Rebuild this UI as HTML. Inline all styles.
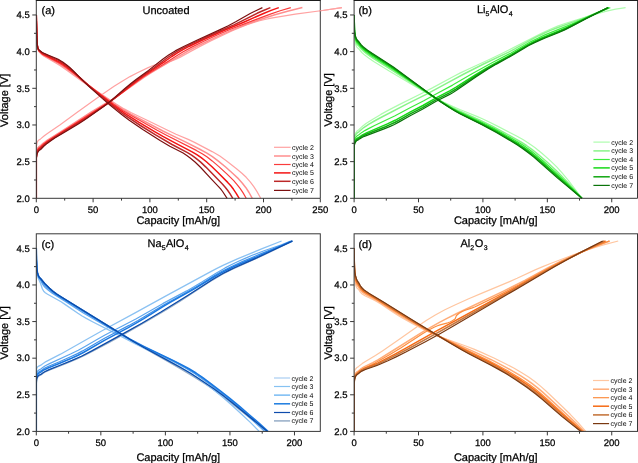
<!DOCTYPE html>
<html><head><meta charset="utf-8"><style>
html,body{margin:0;padding:0;background:#fff;}
body{width:638px;height:463px;overflow:hidden;}
svg{display:block;font-family:"Liberation Sans", sans-serif;will-change:transform;text-rendering:geometricPrecision;}
</style></head><body>
<svg width="638" height="463" viewBox="0 0 638 463">
<rect width="638" height="463" fill="#fff"/>
<g fill="none" stroke-linejoin="round" stroke-linecap="butt">
<clipPath id="cpa"><rect x="36.30" y="0" width="700" height="463"/></clipPath>
<g clip-path="url(#cpa)">
<path d="M36.3,15.0L36.9,39.7L37.0,42.9L37.4,46.1L37.9,49.0L38.9,51.3L41.4,54.3L42.3,55.1L43.7,56.0L53.6,61.7L59.9,65.6L66.4,70.1L82.3,81.4L91.1,87.4L115.8,103.8L124.1,108.9L131.4,112.8L147.1,120.2L169.2,131.0L176.0,134.2L188.2,139.4L194.5,142.4L212.1,151.6L216.4,154.0L219.8,156.1L226.3,160.7L236.2,168.5L241.9,173.3L246.2,177.3L250.2,181.8L253.8,186.7L257.0,191.6L260.7,198.3" stroke="#ffa2a2" stroke-width="1.20"/>
<path d="M36.3,198.3L36.3,147.7L37.0,142.8L37.9,140.9L38.9,139.9L40.6,138.9L44.0,136.0L47.4,133.4L60.2,124.7L76.9,112.5L99.9,96.0L114.1,86.3L122.6,80.9L130.0,76.6L137.4,72.8L148.2,67.6L152.5,65.7L156.1,64.5L159.6,63.6L169.2,61.6L172.3,60.7L175.5,59.5L180.3,57.1L191.6,50.9L201.0,45.9L211.2,40.8L221.2,36.0L232.3,30.8L240.8,27.1L247.0,24.6L253.0,22.6L258.7,21.0L264.9,19.5L271.2,18.2L278.6,16.8L295.3,14.2L322.6,10.5L341.9,7.6" stroke="#ffa2a2" stroke-width="1.20"/>
<path d="M36.3,15.0L36.8,38.6L37.1,42.8L37.3,45.6L37.9,48.6L38.7,50.7L39.2,51.4L41.8,54.0L43.7,55.3L57.2,62.7L64.7,67.5L72.6,73.2L87.7,84.7L95.8,90.6L114.2,103.8L118.9,106.9L123.2,109.6L131.4,114.3L162.9,131.0L170.3,134.7L185.8,142.1L199.3,149.0L206.9,153.2L212.4,156.6L218.1,160.9L225.6,167.0L233.1,173.7L238.6,178.9L242.4,183.2L245.9,187.7L249.0,192.5L252.3,198.3" stroke="#ff8e8e" stroke-width="1.50"/>
<path d="M36.3,198.3L36.3,155.0L37.0,149.8L37.9,147.8L38.9,146.7L40.6,145.6L43.4,143.1L46.2,141.0L50.2,138.4L60.2,132.2L91.4,112.0L106.4,103.0L112.4,99.3L124.1,91.4L143.9,77.4L150.5,73.1L156.7,69.3L188.2,50.9L193.6,48.0L199.6,45.0L220.0,35.4L232.0,30.1L244.2,25.2L259.5,19.7L274.9,14.8L288.5,11.0L302.4,7.6" stroke="#ff8e8e" stroke-width="1.50"/>
<path d="M36.3,15.0L36.8,37.9L37.0,42.4L37.4,45.6L37.8,48.3L38.7,50.4L39.2,51.1L41.6,53.4L43.8,54.9L58.2,62.4L61.8,64.6L65.7,67.2L73.5,73.0L88.5,85.2L96.6,91.5L113.6,104.3L118.7,107.8L123.5,110.9L133.8,117.0L156.7,130.0L166.5,135.2L196.3,150.4L202.2,153.8L207.2,157.1L212.2,160.9L218.9,166.6L226.8,173.9L233.5,180.4L236.9,184.3L240.1,188.4L243.1,192.9L246.2,198.3" stroke="#fa3c3c" stroke-width="1.20"/>
<path d="M36.3,198.3L36.3,156.1L37.0,151.0L37.5,149.9L38.2,148.8L38.9,147.9L40.4,146.9L43.6,143.9L46.8,141.5L51.5,138.4L107.9,102.7L118.8,95.2L137.6,81.1L144.7,76.1L150.7,72.2L164.8,63.4L177.5,55.2L183.2,51.7L191.7,47.1L203.2,41.5L217.7,34.8L230.5,29.3L243.8,24.1L270.4,14.1L280.2,10.8L290.8,7.6" stroke="#fa3c3c" stroke-width="1.20"/>
<path d="M36.3,15.0L36.8,35.3L37.1,43.3L37.5,46.3L37.9,48.5L38.6,49.9L39.3,50.8L41.7,53.0L42.9,53.8L58.6,61.6L62.9,64.1L67.1,67.1L73.4,72.1L87.9,84.9L97.0,92.3L113.1,105.1L118.7,109.2L124.8,113.3L138.7,122.1L155.0,131.8L162.9,136.3L174.0,142.3L192.1,151.8L196.8,154.6L201.2,157.6L206.1,161.5L212.0,166.8L217.9,172.5L227.7,182.4L230.8,185.8L233.5,189.3L236.2,193.3L239.2,198.3" stroke="#f41414" stroke-width="1.50"/>
<path d="M36.3,198.3L36.3,157.2L37.0,152.3L37.6,150.9L38.3,149.8L39.0,149.0L40.6,147.9L43.9,144.7L47.2,142.1L53.4,138.0L85.9,117.7L106.1,104.4L110.9,101.0L115.8,97.3L132.1,84.3L138.9,79.1L144.5,75.2L158.1,66.1L171.8,56.5L177.4,52.9L183.0,49.6L189.5,46.2L200.9,40.8L212.0,35.7L223.2,30.8L243.7,22.2L264.1,13.2L271.1,10.4L278.8,7.6" stroke="#f41414" stroke-width="1.50"/>
<path d="M36.3,15.0L36.8,35.2L37.1,42.8L37.4,45.7L37.8,48.0L38.5,49.5L39.1,50.3L41.9,52.5L43.0,53.3L58.5,60.4L62.6,62.9L66.7,65.8L69.9,68.4L73.7,71.7L84.9,82.3L89.5,86.6L104.2,99.0L110.3,104.1L115.9,108.5L121.7,112.9L127.8,117.2L140.4,125.5L155.6,134.9L172.0,144.5L187.5,152.6L191.6,155.1L195.4,157.8L200.4,161.9L205.9,167.1L222.6,184.3L225.2,187.3L227.6,190.3L230.1,193.9L232.8,198.3" stroke="#bc2828" stroke-width="1.50"/>
<path d="M36.3,198.3L36.3,158.0L37.0,153.2L37.7,151.7L38.4,150.5L39.0,149.9L40.7,148.6L44.0,145.3L47.2,142.7L50.4,140.4L54.5,137.7L84.5,119.3L104.8,105.5L109.2,102.3L113.3,99.1L128.3,86.5L134.8,81.4L140.1,77.5L153.6,68.0L167.7,57.5L173.0,53.8L177.1,51.3L181.6,48.9L193.6,42.9L209.2,35.7L233.9,24.9L242.1,20.9L257.1,13.3L263.4,10.5L270.4,7.6" stroke="#bc2828" stroke-width="1.50"/>
<path d="M36.3,15.0L36.8,36.4L37.2,43.1L37.4,45.8L37.8,48.0L38.5,49.2L39.0,49.9L42.0,52.2L43.4,53.0L48.5,55.2L55.9,58.2L59.3,59.9L62.7,62.0L66.4,64.7L69.5,67.3L72.9,70.5L83.7,81.4L88.3,85.8L102.5,98.6L109.6,104.7L116.1,110.1L122.6,115.3L128.9,119.9L135.1,124.2L142.8,129.4L160.1,140.4L169.8,146.2L179.7,151.2L183.1,153.1L186.8,155.5L190.5,158.2L195.3,162.3L200.7,167.5L211.2,178.9L218.3,186.3L220.6,188.9L222.6,191.5L227.1,198.3" stroke="#7c1010" stroke-width="1.20"/>
<path d="M36.3,198.3L36.3,158.7L37.0,154.0L37.7,152.4L38.4,151.3L39.0,150.6L40.6,149.5L44.0,146.0L47.1,143.4L50.5,140.9L54.8,138.1L65.8,131.4L78.3,124.0L82.9,121.1L87.7,117.8L103.3,106.7L107.3,103.7L111.3,100.5L124.6,88.7L130.9,83.5L136.0,79.6L148.5,70.4L162.7,59.2L168.6,54.9L175.2,50.9L183.7,46.5L196.8,40.3L221.2,29.1L228.3,25.7L235.7,21.8L250.2,13.5L255.8,10.7L262.4,7.6" stroke="#7c1010" stroke-width="1.20"/>
</g>
<clipPath id="cpb"><rect x="354.10" y="0" width="700" height="463"/></clipPath>
<g clip-path="url(#cpb)">
<path d="M354.1,15.0L354.5,35.5L354.9,40.4L355.7,44.2L356.4,46.2L357.1,47.4L358.6,48.7L361.8,52.5L364.7,55.1L368.6,57.9L373.7,61.4L389.2,71.1L415.3,86.6L425.6,92.5L434.0,97.2L444.0,102.3L453.0,106.6L460.4,109.8L477.4,116.6L482.9,119.0L488.7,121.7L498.4,126.6L516.1,135.8L522.9,139.5L528.3,142.9L534.8,147.5L542.2,153.5L550.5,160.9L556.7,166.9L562.1,172.9L568.3,180.3L575.0,189.0L581.9,198.3" stroke="#aefcae" stroke-width="1.20"/>
<path d="M354.1,198.3L354.1,139.6L354.7,135.1L355.9,132.6L357.0,131.1L358.9,129.7L361.2,127.4L362.8,126.0L366.0,123.6L372.8,119.2L380.8,114.4L389.5,109.6L399.2,104.6L423.0,92.7L432.4,87.9L453.9,76.3L460.4,72.9L468.1,69.2L487.7,60.2L500.3,54.2L513.5,47.6L542.5,32.8L550.2,29.2L557.6,26.1L565.0,23.5L573.7,20.7L595.6,14.1L606.6,11.2L615.6,9.2L620.8,8.3L625.6,7.6" stroke="#aefcae" stroke-width="1.20"/>
<path d="M354.1,15.0L354.5,33.4L354.9,37.8L355.7,41.3L356.5,43.3L357.1,44.4L358.6,45.8L361.5,49.3L364.7,52.2L368.6,55.1L373.7,58.6L392.7,70.6L419.5,88.0L431.4,95.5L442.0,101.9L449.7,106.2L456.5,109.6L462.3,112.3L479.4,119.9L492.3,126.2L502.9,131.8L514.2,138.1L520.9,142.0L526.4,145.5L532.2,149.7L538.6,154.8L546.7,161.8L555.4,169.8L561.2,175.5L567.3,182.0L574.7,190.1L581.9,198.3" stroke="#88f488" stroke-width="1.50"/>
<path d="M354.1,198.3L354.1,141.1L354.7,136.7L355.7,134.7L356.7,133.4L357.2,132.9L358.9,131.8L361.2,129.7L363.4,127.8L368.6,124.4L374.4,121.0L379.9,118.0L407.6,103.7L426.2,94.3L453.0,79.8L463.9,74.0L483.6,64.0L508.7,52.1L514.8,48.9L532.2,39.2L539.0,35.7L545.1,32.8L550.5,30.4L556.7,28.0L581.8,18.9L598.9,12.0L610.4,7.6" stroke="#88f488" stroke-width="1.50"/>
<path d="M354.1,15.0L354.5,32.4L354.9,36.6L355.7,39.9L356.5,41.8L357.1,42.9L358.6,44.3L361.5,47.9L364.7,50.8L367.9,53.3L371.8,55.9L393.1,69.5L426.9,92.5L436.5,98.7L445.2,104.1L452.0,108.0L458.1,111.2L480.3,121.5L493.9,128.4L503.2,133.5L512.9,139.0L519.6,143.0L525.1,146.6L530.6,150.5L536.4,155.1L543.5,161.2L553.1,169.9L559.9,176.2L566.3,182.4L574.1,190.2L581.9,198.3" stroke="#3cec3c" stroke-width="1.20"/>
<path d="M354.1,198.3L354.1,143.4L354.7,139.4L355.6,137.7L356.5,136.5L357.2,135.8L358.9,134.8L361.9,132.4L364.8,130.6L368.5,128.6L374.6,125.5L394.6,116.0L409.6,108.0L423.8,100.8L437.0,93.4L452.6,85.1L472.5,73.5L483.4,67.4L492.5,62.5L510.6,53.2L531.0,41.6L537.8,38.2L544.9,34.9L571.8,24.1L596.6,13.1L609.4,7.6" stroke="#3cec3c" stroke-width="1.20"/>
<path d="M354.1,15.0L354.5,31.5L354.9,35.4L355.7,38.6L356.5,40.6L357.2,41.6L358.6,43.0L360.5,45.6L361.5,46.7L364.7,49.6L367.9,52.0L372.5,55.1L385.7,63.5L393.1,68.3L427.8,92.9L438.5,100.1L447.5,105.9L453.3,109.3L459.1,112.4L481.0,123.0L495.5,130.5L503.9,135.2L512.2,140.1L518.7,144.0L524.1,147.6L528.0,150.4L531.9,153.3L540.6,160.6L563.1,180.8L581.9,198.3" stroke="#16d816" stroke-width="1.50"/>
<path d="M354.1,198.3L354.1,145.4L354.7,141.7L356.0,139.5L357.1,138.4L358.6,137.5L362.5,134.9L367.0,132.6L387.4,123.9L395.1,120.3L410.0,112.2L422.9,105.5L437.1,97.4L449.7,90.9L456.1,87.2L474.9,75.2L486.5,68.1L494.9,63.3L511.1,54.7L524.6,46.7L529.5,43.9L535.3,41.0L541.7,38.0L560.8,30.3L567.2,27.5L590.2,16.2L608.6,7.6" stroke="#16d816" stroke-width="1.50"/>
<path d="M354.1,15.0L354.5,30.9L354.9,34.6L355.6,37.5L356.4,39.4L357.1,40.6L358.6,42.1L361.2,45.5L362.8,47.1L364.4,48.5L367.6,50.9L371.8,53.8L385.3,62.4L393.1,67.6L428.8,93.4L440.1,101.3L448.8,106.9L454.3,110.2L459.7,113.3L481.6,124.0L496.1,131.7L503.9,136.1L511.6,140.7L518.0,144.7L523.2,148.1L529.6,152.8L536.1,158.0L581.9,198.3" stroke="#10a610" stroke-width="1.50"/>
<path d="M354.1,198.3L354.1,146.2L354.7,142.7L356.0,140.5L357.1,139.4L358.6,138.6L361.8,136.4L365.7,134.5L385.4,126.7L390.5,124.4L394.7,122.5L399.2,120.1L410.2,113.9L422.5,107.6L436.7,99.4L449.9,92.6L456.3,88.8L475.7,76.0L487.5,68.5L495.7,63.8L511.5,55.2L524.0,47.7L528.9,44.9L534.4,42.1L540.2,39.4L559.5,31.5L566.0,28.7L571.4,26.0L587.2,17.8L608.2,7.6" stroke="#10a610" stroke-width="1.50"/>
<path d="M354.1,15.0L354.5,30.4L354.9,34.0L355.6,36.8L356.5,38.9L357.2,40.0L358.6,41.4L361.2,44.8L362.8,46.4L364.4,47.8L367.6,50.2L371.8,53.1L385.3,61.7L393.4,67.1L429.5,93.8L441.1,102.0L449.4,107.6L454.9,111.0L460.4,114.0L482.0,124.8L496.8,132.8L511.3,141.3L517.4,145.1L522.5,148.5L528.3,152.8L533.8,157.1L557.6,178.1L581.9,198.3" stroke="#0a740a" stroke-width="1.20"/>
<path d="M354.1,198.3L354.1,147.0L354.7,143.5L356.0,141.4L357.1,140.4L358.6,139.6L361.2,137.9L362.8,137.0L365.0,136.1L384.7,128.6L390.2,126.4L394.4,124.5L399.2,121.9L410.1,115.7L422.4,109.3L436.2,101.2L449.7,94.4L453.0,92.5L456.5,90.3L476.2,76.8L488.1,69.1L496.4,64.1L511.6,55.8L523.8,48.4L528.3,45.8L533.5,43.1L539.0,40.6L545.1,38.0L558.3,32.7L564.7,29.9L570.5,26.9L586.0,18.6L607.9,7.6" stroke="#0a740a" stroke-width="1.20"/>
</g>
<clipPath id="cpc"><rect x="36.30" y="0" width="700" height="463"/></clipPath>
<g clip-path="url(#cpc)">
<path d="M36.3,248.3L36.5,259.8L36.9,268.3L37.4,272.4L38.2,275.3L39.3,277.4L41.1,279.1L43.1,281.7L45.0,283.8L49.5,288.3L53.4,291.7L56.6,294.0L60.5,296.6L112.7,328.7L135.0,342.6L143.4,347.6L165.6,360.0L180.8,368.7L193.3,376.3L205.3,383.9L215.3,390.6L224.0,397.1L247.5,416.0L267.2,431.4" stroke="#98aec8" stroke-width="1.60"/>
<path d="M36.3,431.4L36.3,383.7L36.7,379.1L37.2,377.9L37.8,376.9L38.2,376.4L38.9,375.8L40.8,374.9L43.1,373.1L44.7,372.1L49.2,370.0L66.3,363.2L77.0,358.7L85.0,355.0L94.1,350.3L108.3,342.7L122.8,334.7L146.0,321.5L158.3,314.4L168.0,308.5L179.3,301.5L212.8,279.7L221.5,274.5L226.4,272.0L231.9,269.3L262.2,255.6L292.4,241.0" stroke="#98aec8" stroke-width="1.60"/>
<path d="M36.3,248.3L36.6,266.2L36.9,272.2L37.3,275.5L38.1,278.0L40.5,283.3L42.4,289.0L43.1,290.2L43.7,291.2L45.3,292.8L47.6,294.3L56.6,299.2L61.1,301.8L65.3,304.6L77.9,313.3L82.1,316.0L86.3,318.4L92.5,321.7L115.4,333.4L135.4,343.9L156.7,354.4L166.4,359.4L179.9,366.8L185.7,370.3L191.5,373.9L199.0,378.9L206.7,384.5L214.4,390.5L221.9,396.6L231.6,405.0L241.9,414.4L250.3,422.4L259.2,431.4" stroke="#8cc2f2" stroke-width="1.30"/>
<path d="M36.3,431.4L36.3,372.8L36.7,368.4L37.5,367.0L38.1,366.5L38.8,366.1L40.8,365.2L43.1,363.5L45.0,362.2L60.5,354.2L88.3,338.5L102.1,330.7L135.1,312.9L165.1,296.4L211.2,271.4L217.4,268.2L223.5,265.1L237.4,258.9L262.2,248.6L281.6,241.0" stroke="#8cc2f2" stroke-width="1.30"/>
<path d="M36.3,248.3L36.4,259.3L36.7,267.8L37.1,271.7L37.7,275.0L38.1,276.3L39.0,278.2L40.6,280.5L43.0,284.9L43.9,286.1L45.2,287.5L48.4,290.3L51.9,292.9L55.4,295.3L65.4,301.6L82.9,312.7L92.8,318.6L119.6,334.0L130.4,340.1L138.7,344.5L166.8,358.2L178.0,363.9L186.6,368.7L194.5,373.6L201.6,378.4L209.5,384.2L218.4,391.0L226.7,397.7L236.5,405.9L246.4,414.6L255.3,422.7L264.5,431.4" stroke="#5ea6ee" stroke-width="1.20"/>
<path d="M36.3,431.4L36.3,376.5L36.7,372.8L37.3,371.6L37.8,370.8L39.0,369.9L40.8,369.0L43.4,367.0L45.3,365.8L49.5,363.6L70.5,354.0L78.3,350.2L85.0,346.5L97.9,339.0L105.0,335.0L136.3,318.7L163.1,303.4L186.7,290.9L194.4,286.6L201.9,282.1L216.4,272.9L225.1,267.9L231.2,264.8L238.0,261.5L245.1,258.4L252.2,255.3L264.1,250.7L281.6,244.7L290.6,241.0" stroke="#5ea6ee" stroke-width="1.20"/>
<path d="M36.3,248.3L36.4,258.5L36.8,268.1L37.3,272.3L38.0,275.4L39.2,277.9L40.8,279.8L42.6,282.7L43.7,284.1L46.5,287.1L51.4,291.3L54.6,293.7L58.1,296.0L83.9,312.1L111.2,328.5L126.9,337.7L134.6,342.0L141.7,345.7L170.2,359.4L179.1,363.9L187.5,368.5L195.2,373.2L201.9,377.8L209.9,383.6L219.4,390.9L228.1,397.9L238.1,406.2L248.0,414.8L257.0,422.8L266.3,431.4" stroke="#3f90e8" stroke-width="1.20"/>
<path d="M36.3,431.4L36.3,378.7L36.7,375.0L37.3,373.7L37.8,372.8L38.9,371.9L40.8,370.9L42.8,369.4L44.4,368.3L48.6,366.2L59.5,361.7L71.7,356.3L77.5,353.6L82.6,350.9L104.5,338.2L129.0,325.4L138.0,320.4L164.1,304.8L188.5,291.3L195.9,287.1L202.0,283.4L214.6,275.6L222.0,271.3L231.1,266.7L242.8,261.4L260.6,253.9L281.6,245.3L291.7,241.0" stroke="#3f90e8" stroke-width="1.20"/>
<path d="M36.3,248.3L36.5,259.8L36.9,268.3L37.4,272.4L38.2,275.3L39.3,277.4L40.8,278.8L43.4,282.0L45.0,283.9L49.5,288.3L53.4,291.7L57.0,294.3L61.5,297.2L114.7,329.9L129.6,338.8L136.7,342.7L143.8,346.3L173.5,360.6L180.9,364.3L188.6,368.5L196.1,373.0L202.5,377.4L210.2,383.1L220.6,391.0L229.9,398.4L239.6,406.4L249.3,414.7L258.7,422.9L268.0,431.4" stroke="#1a78e0" stroke-width="1.50"/>
<path d="M36.3,431.4L36.3,380.1L36.7,376.5L37.3,375.1L37.9,374.1L39.0,373.1L40.8,372.2L42.8,370.7L44.4,369.7L48.6,367.7L59.2,363.5L71.5,358.3L77.6,355.5L83.4,352.5L104.4,340.3L128.3,327.6L137.0,322.7L143.8,318.7L157.0,310.3L163.8,306.2L171.5,301.7L194.8,288.7L213.8,277.0L220.3,273.3L226.7,270.0L234.1,266.5L261.2,254.9L292.4,241.0" stroke="#1a78e0" stroke-width="1.50"/>
<path d="M36.3,248.3L36.5,259.8L36.9,268.3L37.4,272.4L38.2,275.3L39.3,277.4L40.8,278.8L43.4,282.0L45.0,283.9L49.5,288.3L53.4,291.7L56.6,294.0L60.5,296.6L133.8,341.7L143.8,347.5L168.0,360.6L180.6,367.6L190.9,373.6L201.2,380.2L213.5,388.5L224.4,396.6L231.6,402.3L267.4,431.4" stroke="#0c4aa8" stroke-width="1.20"/>
<path d="M36.3,431.4L36.3,383.1L36.7,378.7L37.3,377.3L37.8,376.4L38.9,375.3L40.8,374.4L43.1,372.7L44.7,371.7L49.2,369.6L58.9,365.8L72.1,360.4L81.5,356.2L91.8,350.9L119.2,335.9L141.5,323.4L160.9,312.1L187.3,295.7L213.8,278.8L219.0,275.7L223.8,273.0L228.6,270.6L234.5,267.8L254.1,259.1L264.1,254.5L292.4,241.0" stroke="#0c4aa8" stroke-width="1.20"/>
</g>
<clipPath id="cpd"><rect x="354.10" y="0" width="700" height="463"/></clipPath>
<g clip-path="url(#cpd)">
<path d="M354.1,248.3L354.2,261.5L354.6,273.4L354.9,279.1L355.5,284.3L356.0,286.2L356.0,286.1L356.8,287.8L358.6,289.5L360.5,292.4L362.2,294.0L363.8,295.1L365.4,296.0L372.8,299.4L376.6,301.5L380.8,304.1L393.4,312.5L400.5,316.9L412.1,323.5L423.0,329.3L430.7,332.9L438.5,336.2L445.6,338.8L466.5,346.2L473.9,349.1L482.0,352.6L493.9,358.0L505.5,363.7L514.2,368.3L522.2,373.0L528.6,377.1L534.8,381.5L540.2,385.9L545.7,390.8L562.5,406.7L570.2,414.3L577.9,422.4L585.7,431.4" stroke="#ffc6a0" stroke-width="1.20"/>
<path d="M354.1,431.4L354.1,374.3L354.5,371.4L355.0,369.9L355.6,369.0L357.0,367.4L358.6,366.4L362.2,363.6L365.4,361.5L375.4,355.5L382.4,350.9L397.9,340.3L418.5,325.7L426.2,320.5L435.3,315.0L444.9,309.8L454.9,305.0L468.7,298.8L483.2,292.6L509.6,281.6L517.1,278.3L535.1,269.9L542.2,266.9L550.5,263.5L571.5,255.5L588.9,249.4L596.0,247.1L603.4,244.9L618.2,241.0" stroke="#ffc6a0" stroke-width="1.20"/>
<path d="M354.1,248.3L354.2,260.9L354.5,271.7L354.9,276.7L355.5,281.4L356.0,283.1L357.0,285.3L358.6,287.1L360.8,290.5L362.7,292.4L365.9,294.5L373.3,298.4L377.8,300.9L394.1,311.5L404.0,317.6L414.5,323.7L424.4,329.1L432.1,333.0L440.1,336.8L470.5,350.1L482.0,355.4L491.2,359.7L499.4,363.8L506.9,367.8L514.0,371.8L520.4,375.7L526.5,379.6L532.2,383.7L537.3,387.6L542.4,391.9L548.7,397.6L569.3,416.7L576.6,423.9L584.0,431.4" stroke="#ffac78" stroke-width="1.50"/>
<path d="M354.1,431.4L354.1,378.7L354.5,375.8L355.0,374.3L355.6,373.3L356.9,372.0L358.6,370.9L360.5,369.2L362.2,368.0L365.0,366.4L372.8,362.7L378.3,359.6L391.5,351.5L422.7,331.9L431.4,326.8L439.4,322.3L447.5,318.1L456.8,313.5L503.5,291.1L513.8,286.0L524.8,280.3L547.6,267.8L559.9,261.6L572.1,256.0L586.0,250.1L598.2,245.3L609.9,241.0" stroke="#ffac78" stroke-width="1.50"/>
<path d="M354.1,248.3L354.2,260.4L354.5,270.4L354.9,275.1L355.5,279.2L355.9,280.9L357.1,283.5L358.6,285.3L360.9,289.1L362.1,290.4L363.5,291.7L366.8,293.8L374.1,297.9L378.3,300.4L394.5,310.7L404.7,317.0L416.1,323.7L426.6,329.7L436.5,335.0L447.3,340.5L487.6,360.1L495.7,364.2L507.7,370.7L518.9,377.4L524.6,381.2L530.1,385.1L535.1,388.8L539.9,392.7L545.6,397.7L571.3,420.9L582.9,431.4" stroke="#fc8e40" stroke-width="1.20"/>
<path d="M354.1,431.4L354.1,380.1L354.5,377.2L354.9,375.9L355.5,374.9L358.3,372.1L359.9,370.8L361.8,369.5L365.4,367.6L372.1,364.6L375.0,363.1L390.8,353.9L401.1,347.7L421.7,334.2L426.6,331.3L430.7,329.0L434.6,327.0L437.5,325.7L440.1,324.9L447.8,322.8L450.1,322.0L452.3,320.8L454.3,319.6L455.2,318.7L456.2,316.1L456.5,315.5L456.8,315.2L459.1,313.3L461.3,311.9L463.3,311.0L465.2,310.2L472.3,307.9L475.2,306.8L500.0,294.6L519.0,284.8L548.9,268.0L556.0,264.2L562.8,260.9L575.0,255.2L586.9,249.9L598.2,245.2L609.2,241.0" stroke="#fc8e40" stroke-width="1.20"/>
<path d="M354.1,248.3L354.2,260.1L354.5,269.6L354.9,274.1L355.5,277.8L355.9,279.5L357.1,282.4L358.6,284.4L360.1,287.0L361.1,288.4L362.2,289.6L363.8,291.1L366.8,293.1L378.5,300.0L405.6,316.9L418.2,324.5L429.6,331.1L443.8,338.9L460.3,347.7L471.9,353.7L489.8,362.5L497.4,366.4L507.9,372.3L517.9,378.5L523.7,382.3L528.9,385.9L533.9,389.6L538.6,393.4L544.7,398.6L560.6,412.8L582.1,431.4" stroke="#f66a14" stroke-width="1.50"/>
<path d="M354.1,431.4L354.1,381.8L354.6,378.1L355.1,376.2L355.8,374.9L357.1,373.5L358.5,372.5L360.7,370.6L362.3,369.6L365.2,368.2L372.8,365.3L377.6,363.1L384.4,359.7L394.5,354.4L405.9,348.1L438.0,330.2L511.4,290.2L545.0,271.1L557.7,264.1L569.4,258.1L582.5,251.7L594.2,246.1L605.6,241.0" stroke="#f66a14" stroke-width="1.50"/>
<path d="M354.1,248.3L354.2,259.8L354.5,267.7L354.8,272.6L355.4,276.3L356.4,279.6L357.2,281.4L358.6,283.3L360.1,286.0L361.1,287.4L362.2,288.7L363.8,290.2L365.5,291.5L368.0,293.1L380.2,300.5L408.6,318.2L423.6,327.3L438.0,335.8L453.8,344.9L465.8,351.5L474.2,355.9L490.6,364.2L498.4,368.3L507.7,373.7L517.1,379.6L527.7,386.8L532.6,390.4L537.1,393.9L543.2,399.1L561.9,415.5L571.6,423.5L581.4,431.4" stroke="#c67840" stroke-width="1.60"/>
<path d="M354.1,431.4L354.1,382.8L354.6,378.7L355.2,376.7L355.8,375.4L357.1,374.0L358.6,373.0L360.6,371.3L362.2,370.3L365.4,368.8L375.2,365.2L381.0,362.6L392.6,356.9L407.5,349.2L431.5,336.1L453.2,324.0L510.9,291.5L543.6,272.4L555.6,265.7L567.2,259.4L580.5,252.5L592.5,246.6L604.2,241.0" stroke="#c67840" stroke-width="1.60"/>
<path d="M354.1,248.3L354.2,259.6L354.5,267.3L354.8,272.0L355.4,275.4L356.5,279.0L357.2,280.6L358.6,282.6L360.2,285.5L361.2,287.0L362.5,288.5L364.1,290.0L366.3,291.6L369.6,293.7L383.4,302.1L415.6,322.1L452.6,344.6L462.0,350.0L469.7,354.3L490.0,364.7L497.7,368.9L507.1,374.3L516.4,380.2L526.7,387.2L535.7,394.0L542.5,399.6L555.4,410.9L562.1,416.6L571.8,424.4L580.9,431.4" stroke="#7a3810" stroke-width="1.20"/>
<path d="M354.1,431.4L354.1,383.8L354.6,379.5L355.2,377.5L355.8,376.0L357.1,374.5L358.6,373.5L360.5,371.9L361.8,371.1L365.4,369.5L373.4,366.8L377.6,365.2L387.9,360.7L396.6,356.6L406.3,351.8L425.9,341.5L439.1,334.2L451.7,327.1L515.1,289.9L543.8,272.9L554.7,266.6L566.0,260.3L578.9,253.3L590.8,247.1L602.7,241.0" stroke="#7a3810" stroke-width="1.20"/>
</g>
</g>
<g stroke="#383838" stroke-width="1" fill="none">
<polyline points="36.30,0.5 36.30,198.30 320.30,198.30 320.30,0.5" fill="none"/>
<line x1="35.80" y1="0.5" x2="320.80" y2="0.5" stroke="#1c1c1c"/>
<line x1="36.30" y1="198.30" x2="36.30" y2="202.30"/>
<line x1="64.70" y1="198.30" x2="64.70" y2="200.60"/>
<line x1="93.10" y1="198.30" x2="93.10" y2="202.30"/>
<line x1="121.50" y1="198.30" x2="121.50" y2="200.60"/>
<line x1="149.90" y1="198.30" x2="149.90" y2="202.30"/>
<line x1="178.30" y1="198.30" x2="178.30" y2="200.60"/>
<line x1="206.70" y1="198.30" x2="206.70" y2="202.30"/>
<line x1="235.10" y1="198.30" x2="235.10" y2="200.60"/>
<line x1="263.50" y1="198.30" x2="263.50" y2="202.30"/>
<line x1="291.90" y1="198.30" x2="291.90" y2="200.60"/>
<line x1="320.30" y1="198.30" x2="320.30" y2="202.30"/>
<line x1="36.30" y1="198.30" x2="32.30" y2="198.30"/>
<line x1="36.30" y1="179.97" x2="34.00" y2="179.97"/>
<line x1="36.30" y1="161.63" x2="32.30" y2="161.63"/>
<line x1="36.30" y1="143.30" x2="34.00" y2="143.30"/>
<line x1="36.30" y1="124.97" x2="32.30" y2="124.97"/>
<line x1="36.30" y1="106.63" x2="34.00" y2="106.63"/>
<line x1="36.30" y1="88.30" x2="32.30" y2="88.30"/>
<line x1="36.30" y1="69.97" x2="34.00" y2="69.97"/>
<line x1="36.30" y1="51.63" x2="32.30" y2="51.63"/>
<line x1="36.30" y1="33.30" x2="34.00" y2="33.30"/>
<line x1="36.30" y1="14.97" x2="32.30" y2="14.97"/>
<polyline points="354.10,0.5 354.10,198.30 637.50,198.30 637.50,0.5" fill="none"/>
<line x1="353.60" y1="0.5" x2="638.00" y2="0.5" stroke="#1c1c1c"/>
<line x1="354.10" y1="198.30" x2="354.10" y2="202.30"/>
<line x1="386.30" y1="198.30" x2="386.30" y2="200.60"/>
<line x1="418.51" y1="198.30" x2="418.51" y2="202.30"/>
<line x1="450.71" y1="198.30" x2="450.71" y2="200.60"/>
<line x1="482.92" y1="198.30" x2="482.92" y2="202.30"/>
<line x1="515.12" y1="198.30" x2="515.12" y2="200.60"/>
<line x1="547.33" y1="198.30" x2="547.33" y2="202.30"/>
<line x1="579.53" y1="198.30" x2="579.53" y2="200.60"/>
<line x1="611.74" y1="198.30" x2="611.74" y2="202.30"/>
<line x1="354.10" y1="198.30" x2="350.10" y2="198.30"/>
<line x1="354.10" y1="179.97" x2="351.80" y2="179.97"/>
<line x1="354.10" y1="161.63" x2="350.10" y2="161.63"/>
<line x1="354.10" y1="143.30" x2="351.80" y2="143.30"/>
<line x1="354.10" y1="124.97" x2="350.10" y2="124.97"/>
<line x1="354.10" y1="106.63" x2="351.80" y2="106.63"/>
<line x1="354.10" y1="88.30" x2="350.10" y2="88.30"/>
<line x1="354.10" y1="69.97" x2="351.80" y2="69.97"/>
<line x1="354.10" y1="51.63" x2="350.10" y2="51.63"/>
<line x1="354.10" y1="33.30" x2="351.80" y2="33.30"/>
<line x1="354.10" y1="14.97" x2="350.10" y2="14.97"/>
<rect x="36.30" y="233.80" width="284.00" height="197.60" fill="none" stroke="#383838" stroke-width="1"/>
<line x1="36.30" y1="431.40" x2="36.30" y2="435.40"/>
<line x1="68.57" y1="431.40" x2="68.57" y2="433.70"/>
<line x1="100.85" y1="431.40" x2="100.85" y2="435.40"/>
<line x1="133.12" y1="431.40" x2="133.12" y2="433.70"/>
<line x1="165.39" y1="431.40" x2="165.39" y2="435.40"/>
<line x1="197.66" y1="431.40" x2="197.66" y2="433.70"/>
<line x1="229.94" y1="431.40" x2="229.94" y2="435.40"/>
<line x1="262.21" y1="431.40" x2="262.21" y2="433.70"/>
<line x1="294.48" y1="431.40" x2="294.48" y2="435.40"/>
<line x1="36.30" y1="431.40" x2="32.30" y2="431.40"/>
<line x1="36.30" y1="413.09" x2="34.00" y2="413.09"/>
<line x1="36.30" y1="394.79" x2="32.30" y2="394.79"/>
<line x1="36.30" y1="376.48" x2="34.00" y2="376.48"/>
<line x1="36.30" y1="358.18" x2="32.30" y2="358.18"/>
<line x1="36.30" y1="339.87" x2="34.00" y2="339.87"/>
<line x1="36.30" y1="321.57" x2="32.30" y2="321.57"/>
<line x1="36.30" y1="303.26" x2="34.00" y2="303.26"/>
<line x1="36.30" y1="284.96" x2="32.30" y2="284.96"/>
<line x1="36.30" y1="266.65" x2="34.00" y2="266.65"/>
<line x1="36.30" y1="248.34" x2="32.30" y2="248.34"/>
<rect x="354.10" y="233.80" width="283.40" height="197.60" fill="none" stroke="#383838" stroke-width="1"/>
<line x1="354.10" y1="431.40" x2="354.10" y2="435.40"/>
<line x1="386.30" y1="431.40" x2="386.30" y2="433.70"/>
<line x1="418.51" y1="431.40" x2="418.51" y2="435.40"/>
<line x1="450.71" y1="431.40" x2="450.71" y2="433.70"/>
<line x1="482.92" y1="431.40" x2="482.92" y2="435.40"/>
<line x1="515.12" y1="431.40" x2="515.12" y2="433.70"/>
<line x1="547.33" y1="431.40" x2="547.33" y2="435.40"/>
<line x1="579.53" y1="431.40" x2="579.53" y2="433.70"/>
<line x1="611.74" y1="431.40" x2="611.74" y2="435.40"/>
<line x1="354.10" y1="431.40" x2="350.10" y2="431.40"/>
<line x1="354.10" y1="413.09" x2="351.80" y2="413.09"/>
<line x1="354.10" y1="394.79" x2="350.10" y2="394.79"/>
<line x1="354.10" y1="376.48" x2="351.80" y2="376.48"/>
<line x1="354.10" y1="358.18" x2="350.10" y2="358.18"/>
<line x1="354.10" y1="339.87" x2="351.80" y2="339.87"/>
<line x1="354.10" y1="321.57" x2="350.10" y2="321.57"/>
<line x1="354.10" y1="303.26" x2="351.80" y2="303.26"/>
<line x1="354.10" y1="284.96" x2="350.10" y2="284.96"/>
<line x1="354.10" y1="266.65" x2="351.80" y2="266.65"/>
<line x1="354.10" y1="248.34" x2="350.10" y2="248.34"/>
</g>
<clipPath id="cpx"><rect x="319" y="0" width="30" height="20"/></clipPath><path clip-path="url(#cpx)" d="M36.3,198.3L36.3,147.7L37.0,142.8L37.9,140.9L38.9,139.9L40.6,138.9L44.0,136.0L47.4,133.4L60.2,124.7L76.9,112.5L99.9,96.0L114.1,86.3L122.6,80.9L130.0,76.6L137.4,72.8L148.2,67.6L152.5,65.7L156.1,64.5L159.6,63.6L169.2,61.6L172.3,60.7L175.5,59.5L180.3,57.1L191.6,50.9L201.0,45.9L211.2,40.8L221.2,36.0L232.3,30.8L240.8,27.1L247.0,24.6L253.0,22.6L258.7,21.0L264.9,19.5L271.2,18.2L278.6,16.8L295.3,14.2L322.6,10.5L341.9,7.6" stroke="#ffa2a2" stroke-width="1.20" fill="none"/>
<g fill="#000" stroke="#000" stroke-width="0.25">
<text x="29.70" y="201.60" text-anchor="end" font-size="9.5">2.0</text>
<text x="29.70" y="164.93" text-anchor="end" font-size="9.5">2.5</text>
<text x="29.70" y="128.27" text-anchor="end" font-size="9.5">3.0</text>
<text x="29.70" y="91.60" text-anchor="end" font-size="9.5">3.5</text>
<text x="29.70" y="54.93" text-anchor="end" font-size="9.5">4.0</text>
<text x="29.70" y="18.27" text-anchor="end" font-size="9.5">4.5</text>
<text x="36.30" y="212.60" text-anchor="middle" font-size="9.5">0</text>
<text x="93.10" y="212.60" text-anchor="middle" font-size="9.5">50</text>
<text x="149.90" y="212.60" text-anchor="middle" font-size="9.5">100</text>
<text x="206.70" y="212.60" text-anchor="middle" font-size="9.5">150</text>
<text x="263.50" y="212.60" text-anchor="middle" font-size="9.5">200</text>
<text x="320.30" y="212.60" text-anchor="middle" font-size="9.5">250</text>
<text x="178.30" y="223.60" text-anchor="middle" font-size="11">Capacity [mAh/g]</text>
<text transform="translate(7.60,100.30) rotate(-90)" text-anchor="middle" font-size="11">Voltage [V]</text>
<text x="41.60" y="14.20" font-size="11">(a)</text>
<text x="142.50" y="13.50" font-size="11">Uncoated</text>
<text x="347.50" y="201.60" text-anchor="end" font-size="9.5">2.0</text>
<text x="347.50" y="164.93" text-anchor="end" font-size="9.5">2.5</text>
<text x="347.50" y="128.27" text-anchor="end" font-size="9.5">3.0</text>
<text x="347.50" y="91.60" text-anchor="end" font-size="9.5">3.5</text>
<text x="347.50" y="54.93" text-anchor="end" font-size="9.5">4.0</text>
<text x="347.50" y="18.27" text-anchor="end" font-size="9.5">4.5</text>
<text x="354.10" y="212.60" text-anchor="middle" font-size="9.5">0</text>
<text x="418.51" y="212.60" text-anchor="middle" font-size="9.5">50</text>
<text x="482.92" y="212.60" text-anchor="middle" font-size="9.5">100</text>
<text x="547.33" y="212.60" text-anchor="middle" font-size="9.5">150</text>
<text x="611.74" y="212.60" text-anchor="middle" font-size="9.5">200</text>
<text x="495.80" y="224.00" text-anchor="middle" font-size="11">Capacity [mAh/g]</text>
<text transform="translate(331.90,99.80) rotate(-90)" text-anchor="middle" font-size="11">Voltage [V]</text>
<text x="358.40" y="14.20" font-size="11">(b)</text>
<text x="477.00" y="13.10" font-size="11">Li<tspan font-size="6.9" dy="3">5</tspan><tspan dy="-3" dx="0.5">AlO</tspan><tspan font-size="6.9" dy="3" dx="0.4">4</tspan></text>
<text x="29.70" y="434.70" text-anchor="end" font-size="9.5">2.0</text>
<text x="29.70" y="398.09" text-anchor="end" font-size="9.5">2.5</text>
<text x="29.70" y="361.48" text-anchor="end" font-size="9.5">3.0</text>
<text x="29.70" y="324.87" text-anchor="end" font-size="9.5">3.5</text>
<text x="29.70" y="288.26" text-anchor="end" font-size="9.5">4.0</text>
<text x="29.70" y="251.64" text-anchor="end" font-size="9.5">4.5</text>
<text x="36.30" y="445.70" text-anchor="middle" font-size="9.5">0</text>
<text x="100.85" y="445.70" text-anchor="middle" font-size="9.5">50</text>
<text x="165.39" y="445.70" text-anchor="middle" font-size="9.5">100</text>
<text x="229.94" y="445.70" text-anchor="middle" font-size="9.5">150</text>
<text x="294.48" y="445.70" text-anchor="middle" font-size="9.5">200</text>
<text x="178.30" y="460.50" text-anchor="middle" font-size="11">Capacity [mAh/g]</text>
<text transform="translate(7.60,332.90) rotate(-90)" text-anchor="middle" font-size="11">Voltage [V]</text>
<text x="41.40" y="247.60" font-size="11">(c)</text>
<text x="147.60" y="247.00" font-size="11">Na<tspan font-size="6.9" dy="3">5</tspan><tspan dy="-3" dx="0.5">AlO</tspan><tspan font-size="6.9" dy="3" dx="0.4">4</tspan></text>
<text x="347.50" y="434.70" text-anchor="end" font-size="9.5">2.0</text>
<text x="347.50" y="398.09" text-anchor="end" font-size="9.5">2.5</text>
<text x="347.50" y="361.48" text-anchor="end" font-size="9.5">3.0</text>
<text x="347.50" y="324.87" text-anchor="end" font-size="9.5">3.5</text>
<text x="347.50" y="288.26" text-anchor="end" font-size="9.5">4.0</text>
<text x="347.50" y="251.64" text-anchor="end" font-size="9.5">4.5</text>
<text x="354.10" y="445.70" text-anchor="middle" font-size="9.5">0</text>
<text x="418.51" y="445.70" text-anchor="middle" font-size="9.5">50</text>
<text x="482.92" y="445.70" text-anchor="middle" font-size="9.5">100</text>
<text x="547.33" y="445.70" text-anchor="middle" font-size="9.5">150</text>
<text x="611.74" y="445.70" text-anchor="middle" font-size="9.5">200</text>
<text x="495.80" y="460.50" text-anchor="middle" font-size="11">Capacity [mAh/g]</text>
<text transform="translate(331.90,332.90) rotate(-90)" text-anchor="middle" font-size="11">Voltage [V]</text>
<text x="358.40" y="248.40" font-size="11">(d)</text>
<text x="460.40" y="247.00" font-size="11">Al<tspan font-size="6.9" dy="3">2</tspan><tspan dy="-3" dx="0.6">O</tspan><tspan font-size="6.9" dy="3" dx="0.6">3</tspan></text>
</g>
<line x1="274.00" y1="147.30" x2="290.60" y2="147.30" stroke="#ffa2a2" stroke-width="1.20"/>
<text x="292.10" y="149.80" font-size="7">cycle 2</text>
<line x1="274.00" y1="156.00" x2="290.60" y2="156.00" stroke="#ff8e8e" stroke-width="1.50"/>
<text x="292.10" y="158.50" font-size="7">cycle 3</text>
<line x1="274.00" y1="164.50" x2="290.60" y2="164.50" stroke="#fa3c3c" stroke-width="1.20"/>
<text x="292.10" y="167.00" font-size="7">cycle 4</text>
<line x1="274.00" y1="172.90" x2="290.60" y2="172.90" stroke="#f41414" stroke-width="1.50"/>
<text x="292.10" y="175.40" font-size="7">cycle 5</text>
<line x1="274.00" y1="181.30" x2="290.60" y2="181.30" stroke="#bc2828" stroke-width="1.50"/>
<text x="292.10" y="183.80" font-size="7">cycle 6</text>
<line x1="274.00" y1="190.40" x2="290.60" y2="190.40" stroke="#7c1010" stroke-width="1.20"/>
<text x="292.10" y="192.90" font-size="7">cycle 7</text>
<line x1="593.40" y1="142.10" x2="609.80" y2="142.10" stroke="#aefcae" stroke-width="1.20"/>
<text x="611.30" y="144.60" font-size="7">cycle 2</text>
<line x1="593.40" y1="150.90" x2="609.80" y2="150.90" stroke="#88f488" stroke-width="1.50"/>
<text x="611.30" y="153.40" font-size="7">cycle 3</text>
<line x1="593.40" y1="159.50" x2="609.80" y2="159.50" stroke="#3cec3c" stroke-width="1.20"/>
<text x="611.30" y="162.00" font-size="7">cycle 4</text>
<line x1="593.40" y1="167.90" x2="609.80" y2="167.90" stroke="#16d816" stroke-width="1.50"/>
<text x="611.30" y="170.40" font-size="7">cycle 5</text>
<line x1="593.40" y1="176.80" x2="609.80" y2="176.80" stroke="#10a610" stroke-width="1.50"/>
<text x="611.30" y="179.30" font-size="7">cycle 6</text>
<line x1="593.40" y1="185.40" x2="609.80" y2="185.40" stroke="#0a740a" stroke-width="1.20"/>
<text x="611.30" y="187.90" font-size="7">cycle 7</text>
<line x1="274.00" y1="378.00" x2="290.10" y2="378.00" stroke="#c6def6" stroke-width="1.80"/>
<text x="291.60" y="380.50" font-size="7">cycle 2</text>
<line x1="274.00" y1="386.50" x2="290.10" y2="386.50" stroke="#86c2f2" stroke-width="1.20"/>
<text x="291.60" y="389.00" font-size="7">cycle 3</text>
<line x1="274.00" y1="395.10" x2="290.10" y2="395.10" stroke="#56aaf0" stroke-width="1.20"/>
<text x="291.60" y="397.60" font-size="7">cycle 4</text>
<line x1="274.00" y1="403.80" x2="290.10" y2="403.80" stroke="#1c7ce0" stroke-width="1.50"/>
<text x="291.60" y="406.30" font-size="7">cycle 5</text>
<line x1="274.00" y1="412.50" x2="290.10" y2="412.50" stroke="#0e4cac" stroke-width="1.20"/>
<text x="291.60" y="415.00" font-size="7">cycle 6</text>
<line x1="274.00" y1="420.90" x2="290.10" y2="420.90" stroke="#9cb2ca" stroke-width="1.60"/>
<text x="291.60" y="423.40" font-size="7">cycle 7</text>
<line x1="593.00" y1="380.50" x2="609.10" y2="380.50" stroke="#ffc6a0" stroke-width="1.20"/>
<text x="610.60" y="383.00" font-size="7">cycle 2</text>
<line x1="593.00" y1="389.20" x2="609.10" y2="389.20" stroke="#ffac78" stroke-width="1.50"/>
<text x="610.60" y="391.70" font-size="7">cycle 3</text>
<line x1="593.00" y1="397.70" x2="609.10" y2="397.70" stroke="#fc8e40" stroke-width="1.20"/>
<text x="610.60" y="400.20" font-size="7">cycle 4</text>
<line x1="593.00" y1="406.20" x2="609.10" y2="406.20" stroke="#f66a14" stroke-width="1.50"/>
<text x="610.60" y="408.70" font-size="7">cycle 5</text>
<line x1="593.00" y1="414.90" x2="609.10" y2="414.90" stroke="#c67840" stroke-width="1.60"/>
<text x="610.60" y="417.40" font-size="7">cycle 6</text>
<line x1="593.00" y1="423.60" x2="609.10" y2="423.60" stroke="#7a3810" stroke-width="1.20"/>
<text x="610.60" y="426.10" font-size="7">cycle 7</text>
</svg>
</body></html>
